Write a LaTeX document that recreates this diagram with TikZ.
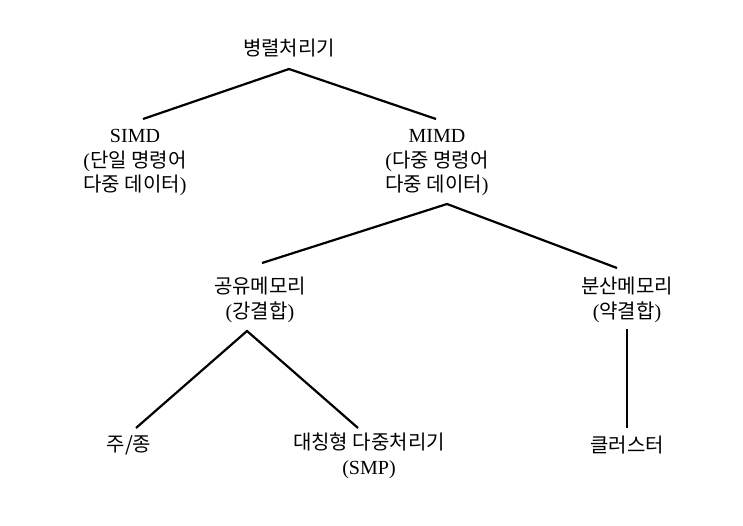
\documentclass[tikz,border=0pt]{standalone}
\usepackage{fontspec}
\setmainfont{Liberation Serif}
\newfontfamily\kr[Scale=1.0]{Noto Sans CJK KR}
\newcommand\K[1]{{\kr #1}}
\begin{document}
\begin{tikzpicture}[x=1pt,y=-1pt,
  lbl/.style={align=center,inner sep=0pt,font=\fontsize{20}{24.5}\selectfont},
  link/.style={line width=2.2pt}]
\useasboundingbox[fill=white] (0,0) rectangle (743,525);
% nodes
\node[lbl] (top) at (289,48) {\K{병렬처리기}};
\node[lbl] (simd) at (135,163) {SIMD\\(\K{단일 명령어}\\\K{다중 데이터})};
\node[lbl] (mimd) at (437,163) {MIMD\\(\K{다중 명령어}\\\K{다중 데이터})};
\node[lbl] (shared) at (260,300) {\K{공유메모리}\\(\K{강결합})};
\node[lbl] (dist) at (627,300) {\K{분산메모리}\\(\K{약결합})};
\node[lbl] (ms) at (129,445) {\K{주/종}};
\node[lbl] (smp) at (369,456) {\K{대칭형 다중처리기}\\(SMP)};
\node[lbl] (clu) at (627,445) {\K{클러스터}};
% connector end points
\coordinate (topB) at (289,69);
\coordinate (simdT) at (143,119);
\coordinate (mimdT) at (436,119);
\coordinate (mimdB) at (447,204);
\coordinate (sharedT) at (262,263);
\coordinate (distT) at (617,268);
\coordinate (sharedB) at (247,331);
\coordinate (msT) at (136,428);
\coordinate (smpT) at (358,428);
\coordinate (distB) at (627,329);
\coordinate (cluT) at (627,428);
% connectors
\draw[link] (simdT) -- (topB) -- (mimdT);
\draw[link] (sharedT) -- (mimdB) -- (distT);
\draw[link] (msT) -- (sharedB) -- (smpT);
\draw[link] (distB) -- (cluT);
\end{tikzpicture}
\end{document}
